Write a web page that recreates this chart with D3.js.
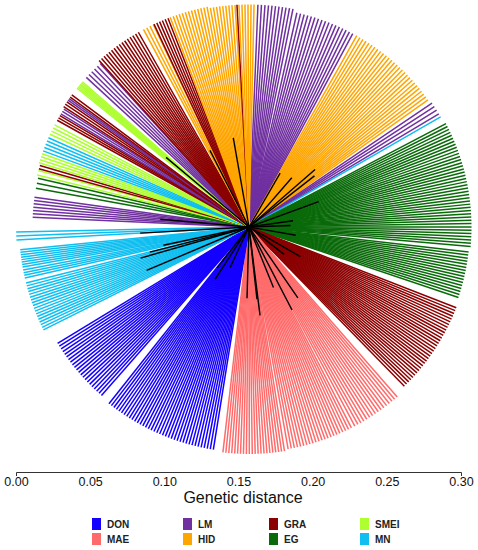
<!DOCTYPE html>
<html>
<head>
<meta charset="utf-8">
<script src="https://cdn.jsdelivr.net/npm/d3@7"></script>
<style>
  body { margin: 0; background: #fff; }
  svg { display: block; }
</style>
</head>
<body>
<div id="chart"></div>
<script>
// groups and colours (legend order)
const groups = ["DON", "MAE", "LM", "HID", "GRA", "EG", "SMEI", "MN"];
const groupColors = ["#1400ff", "#ff6b6b", "#7030a0", "#ffa500", "#8b0000", "#0a6a0a", "#adff2f", "#10bff0"];

// clades going clockwise from north: group, first angle, last angle (deg), leaf count, tip distance
const cladeGroup = ["LM", "LM", "HID", "LM", "MN", "EG", "EG", "GRA", "MAE", "MAE", "MAE",
  "DON", "DON", "MN", "MN", "MN", "MN", "LM", "EG", "SMEI", "GRA", "SMEI", "MN", "SMEI",
  "GRA", "LM", "GRA", "LM", "GRA", "SMEI", "LM", "GRA", "HID", "GRA", "HID", "HID", "GRA", "HID"];
const cladeFrom = [2.3, 12.6, 29.4, 55.9, 60.1, 62.3, 96.5, 111.3, 138.9, 153.0, 171.0,
  189.1, 221.2, 243.4, 257.2, 260.0, 266.8, 272.6, 280.3, 283.8, 285.5, 287.0, 290.3, 295.0,
  299.1, 301.0, 303.0, 305.0, 306.0, 308.9, 312.6, 318.0, 331.9, 334.9, 339.4, 350.0, 356.9, 357.4];
const cladeTo = [11.4, 28.2, 54.6, 59.2, 60.1, 95.0, 108.6, 135.7, 152.0, 170.0, 186.6,
  218.4, 238.7, 255.9, 259.2, 264.3, 268.8, 277.9, 283.0, 285.0, 286.4, 289.5, 294.0, 297.7,
  300.5, 302.5, 304.5, 305.5, 306.7, 311.1, 317.7, 330.4, 334.7, 338.8, 349.2, 356.4, 356.9, 361.3];
const cladeCount = [11, 17, 28, 4, 1, 40, 16, 32, 16, 22, 22,
  38, 22, 18, 4, 8, 3, 7, 3, 2, 2, 4, 5, 4,
  3, 3, 3, 2, 2, 7, 6, 16, 4, 6, 13, 9, 1, 6];
const cladeTip = [0.150, 0.148, 0.148, 0.149, 0.149, 0.150, 0.149, 0.150, 0.152, 0.152, 0.153,
  0.152, 0.151, 0.155, 0.155, 0.155, 0.157, 0.146, 0.146, 0.147, 0.147, 0.148, 0.148, 0.148,
  0.148, 0.148, 0.149, 0.149, 0.149, 0.149, 0.149, 0.151, 0.151, 0.151, 0.151, 0.150, 0.150, 0.150];

// black internal branches: angle (deg), length (distance)
const branchAngle = [350, 333, 310, 30, 41, 49, 52, 70, 82, 88, 100, 120, 128,
  145.4, 152.6, 158, 172.9, 173.7, 181.6, 205, 213, 218, 247, 254, 255.8, 258, 266.8, 275];
const branchLength = [0.061, 0.058, 0.073, 0.042, 0.044, 0.059, 0.056, 0.050, 0.030, 0.028, 0.032, 0.040, 0.030,
  0.058, 0.063, 0.044, 0.060, 0.049, 0.048, 0.030, 0.042, 0.035, 0.075, 0.076, 0.069, 0.059, 0.0735, 0.060];

// axis
const tickValues = [0, 0.05, 0.10, 0.15, 0.20, 0.25, 0.30];
const axisTitle = "Genetic distance";

const width = 478;
const height = 550;
const cx = 249;
const cy = 227;

const svg = d3.select("#chart")
  .append("svg")
  .attr("width", width)
  .attr("height", height);

const x = d3.scaleLinear().domain([0, 0.30]).range([16, 461]);
const r = d => x(d) - x(0);
const color = d3.scaleOrdinal().domain(groups).range(groupColors);

// expand clades into leaves
const leaves = [];
cladeGroup.forEach((g, i) => {
  const n = cladeCount[i];
  const step = n > 1 ? (cladeTo[i] - cladeFrom[i]) / (n - 1) : 0;
  for (let k = 0; k < n; k++) {
    leaves.push({ group: g, angle: cladeFrom[i] + k * step, tip: cladeTip[i] });
  }
});

const branches = branchAngle.map((a, i) => ({ angle: a, len: branchLength[i] }));

function px(angle, dist) {
  return cx + r(dist) * Math.sin(angle * Math.PI / 180);
}
function py(angle, dist) {
  return cy - r(dist) * Math.cos(angle * Math.PI / 180);
}

svg.append("g")
  .selectAll("line")
  .data(leaves)
  .enter()
  .append("line")
  .attr("x1", d => px(d.angle, 0.001))
  .attr("y1", d => py(d.angle, 0.001))
  .attr("x2", d => px(d.angle, d.tip))
  .attr("y2", d => py(d.angle, d.tip))
  .attr("stroke", d => color(d.group))
  .attr("stroke-width", 1.5);

svg.append("g")
  .selectAll("line")
  .data(branches)
  .enter()
  .append("line")
  .attr("x1", cx)
  .attr("y1", cy)
  .attr("x2", d => px(d.angle, d.len))
  .attr("y2", d => py(d.angle, d.len))
  .attr("stroke", "#000")
  .attr("stroke-width", 1.4);

// scale bar axis
const axisG = svg.append("g")
  .attr("transform", "translate(0,472)")
  .call(d3.axisBottom(x)
    .tickValues(tickValues)
    .tickFormat(d3.format(".2f"))
    .tickSizeInner(0)
    .tickSizeOuter(4)
    .tickPadding(5));
axisG.select(".domain").attr("stroke", "#333");
axisG.selectAll("text")
  .attr("font-family", "Liberation Sans, Arial, sans-serif")
  .attr("font-size", 12.5)
  .attr("fill", "#111");

svg.append("text")
  .attr("x", 243)
  .attr("y", 503)
  .attr("text-anchor", "middle")
  .attr("font-family", "Liberation Sans, Arial, sans-serif")
  .attr("font-size", 16)
  .attr("fill", "#111")
  .text(axisTitle);

// legend, 4 columns x 2 rows
const legendX = [92, 183, 269, 360];
const legendY = [518, 533];
const legend = svg.append("g")
  .selectAll("g")
  .data(groups)
  .enter()
  .append("g")
  .attr("transform", (d, i) => `translate(${legendX[Math.floor(i / 2)]},${legendY[i % 2]})`);

legend.append("rect")
  .attr("width", 9)
  .attr("height", 12)
  .attr("fill", d => color(d));

legend.append("text")
  .attr("x", 15)
  .attr("y", 6)
  .attr("dominant-baseline", "central")
  .attr("font-family", "Liberation Sans, Arial, sans-serif")
  .attr("font-weight", "bold")
  .attr("font-size", 10)
  .attr("fill", "#222")
  .text(d => d);
</script>
</body>
</html>
